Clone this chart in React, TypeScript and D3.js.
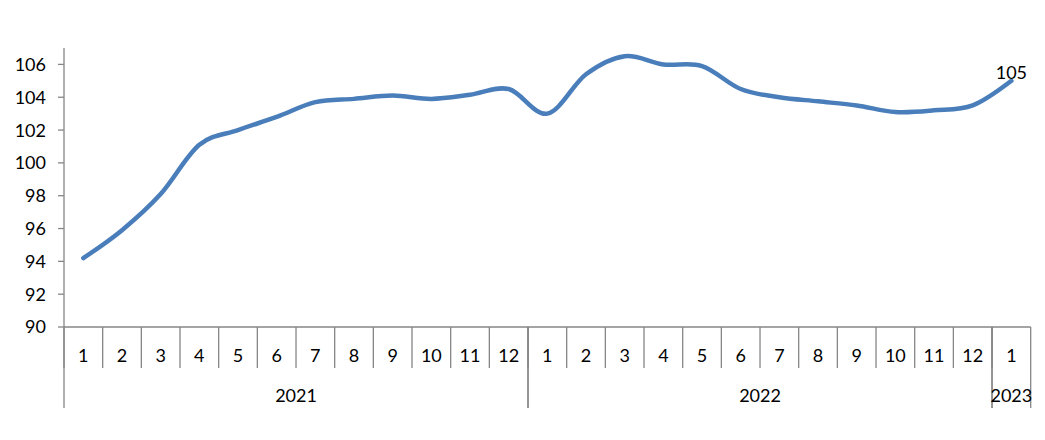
import React from "react";
import * as d3 from "d3";

const months: string[] = ["1","2","3","4","5","6","7","8","9","10","11","12","1","2","3","4","5","6","7","8","9","10","11","12","1"];
const years: { label: string; count: number }[] = [
  { label: "2021", count: 12 },
  { label: "2022", count: 12 },
  { label: "2023", count: 1 },
];
const values: number[] = [94.2, 95.9, 98.1, 101.1, 102.0, 102.8, 103.7, 103.9, 104.1, 103.9, 104.15, 104.5,
  103.0, 105.4, 106.5, 106.0, 105.9, 104.5, 104.0, 103.75, 103.5, 103.1, 103.2, 103.5, 105.0];
const yTicks: number[] = [90, 92, 94, 96, 98, 100, 102, 104, 106];

const W = 1045, H = 440;
const left = 64, right = 1030.7, top = 48, bottom = 327;
const font = "Lato, 'Liberation Sans', sans-serif";
const axisColor = "#868686";
const fs = 18;

export default function App() {
  const idx = months.map((_, i) => i);
  const x = d3.scaleBand<number>().domain(idx).range([left, right]).padding(0);
  const y = d3.scaleLinear().domain([90, 107]).range([bottom, top]);
  const cx = (i: number) => (x(i) as number) + x.bandwidth() / 2;
  const line = d3.line<number>().x((_, i) => cx(i)).y((d) => y(d)).curve(d3.curveCardinal.tension(0));
  const path = line(values) || "";

  const yearBounds: { label: string; start: number; end: number }[] = [];
  let acc = 0;
  years.forEach((yr) => {
    const s = x(acc) as number;
    const e = (x(acc + yr.count - 1) as number) + x.bandwidth();
    yearBounds.push({ label: yr.label, start: s, end: e });
    acc += yr.count;
  });
  const last = values.length - 1;

  return (
    <svg width={W} height={H} style={{ display: "block", position: "absolute", left: 0, top: 0 }}>
      <rect width={W} height={H} fill="#fff" />
      <line x1={left} x2={left} y1={top} y2={bottom} stroke={axisColor} strokeWidth={1.3} />
      {yTicks.map((t) => (
        <g key={t}>
          <line x1={left - 6} x2={left} y1={y(t)} y2={y(t)} stroke={axisColor} strokeWidth={1.3} />
          <text x={46} y={y(t)} dy="0.36em" textAnchor="end" fontFamily={font} fontSize={fs} fill="#000">{t}</text>
        </g>
      ))}
      <line x1={left} x2={right} y1={bottom} y2={bottom} stroke={axisColor} strokeWidth={1.3} />
      {idx.map((i) => (
        <line key={"mt" + i} x1={x(i) as number} x2={x(i) as number} y1={bottom} y2={368} stroke={axisColor} strokeWidth={1.3} />
      ))}
      {yearBounds.map((b, k) => (
        <g key={"yb" + k}>
          <line x1={b.start} x2={b.start} y1={bottom} y2={408} stroke={axisColor} strokeWidth={1.3} />
          <line x1={b.end} x2={b.end} y1={bottom} y2={408} stroke={axisColor} strokeWidth={1.3} />
          <text x={(b.start + b.end) / 2} y={402} textAnchor="middle" fontFamily={font} fontSize={fs} fill="#000">{b.label}</text>
        </g>
      ))}
      {months.map((m, i) => (
        <text key={"m" + i} x={cx(i)} y={362} textAnchor="middle" fontFamily={font} fontSize={fs} fill="#000">{m}</text>
      ))}
      <path d={path} fill="none" stroke="#4A7EBB" strokeWidth={4.5} strokeLinecap="round" strokeLinejoin="round" />
      <text x={cx(last)} y={y(values[last]) - 2} textAnchor="middle" fontFamily={font} fontSize={fs} fill="#000">
        {Math.round(values[last])}
      </text>
    </svg>
  );
}
